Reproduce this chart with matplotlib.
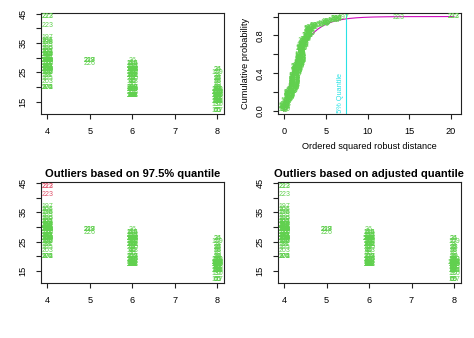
import numpy as np
import matplotlib
matplotlib.use("Agg")
import matplotlib.pyplot as plt

plt.rcParams['font.family'] = ['Liberation Sans', 'DejaVu Sans']

# ---- data: mpg dataset (cyl, hwy), rows 1..234 ----
cyl = [4, 4, 4, 4, 6, 6, 6, 4, 4, 4, 4, 6, 6, 6, 6, 6, 6, 8,
       8, 8, 8, 8, 8, 8, 8, 8, 8, 8, 8, 8, 8, 8, 4, 4, 6, 6, 6,
       4, 6, 6, 6, 6, 6, 6, 6, 6, 6, 6,
       6, 6, 6, 6, 8, 8, 8, 8, 8,
       6, 8, 8, 8, 8, 8, 8,
       8, 8, 8, 8, 8, 8, 8, 8, 8, 8,
       8, 8, 8, 6, 6, 6, 6, 8, 8, 6, 6, 8, 8, 8, 8, 8, 6, 6, 6, 6, 8, 8, 8, 8, 8,
       4, 4, 4, 4, 4, 4, 4, 4, 4,
       4, 4, 4, 4, 6, 6, 6, 4, 4, 4, 4, 6, 6, 6,
       6, 6, 6, 8, 8, 8, 8, 8,
       8, 8, 8, 8, 8, 8, 8, 6, 6, 8, 8,
       4, 4, 4, 4, 6, 6, 6, 6, 6, 6, 6, 6, 8,
       6, 6, 6, 6, 8,
       4, 4, 4, 4, 4, 4, 4, 4, 4, 4, 4, 4, 4, 4,
       4, 4, 6, 6, 6, 8,
       4, 4, 4, 4, 6, 6, 6,
       4, 4, 4, 4, 6, 6, 6,
       4, 4, 4, 4, 4,
       8, 8,
       4, 4, 4, 6, 6, 6, 6,
       4, 4, 4, 4, 6,
       4, 4, 4, 4, 4, 5, 5, 6, 6,
       4, 4, 4, 4, 5, 5,
       4, 4, 4, 4, 6, 6, 6]
hwy = [29, 29, 31, 30, 26, 26, 27, 26, 25, 28, 27, 25, 25, 25, 25, 24, 25, 23,
       20, 15, 20, 17, 17, 26, 23, 26, 25, 24, 19, 14, 15, 17, 27, 30, 26, 29, 26,
       24, 24, 22, 22, 24, 24, 17, 22, 21, 23, 23,
       19, 18, 17, 17, 19, 19, 12, 17, 15,
       17, 17, 12, 17, 16, 18, 15,
       16, 12, 17, 17, 16, 16, 15, 16, 17, 15,
       17, 17, 18, 17, 19, 17, 19, 19, 17, 17, 17, 16, 16, 17, 15, 17, 26, 25, 26, 24, 21, 22, 23, 22, 20,
       33, 32, 32, 29, 32, 34, 36, 36, 29,
       26, 27, 30, 31, 26, 26, 28, 26, 29, 28, 29, 24, 24, 24,
       22, 19, 20, 17, 12, 19, 18, 14,
       15, 18, 18, 15, 17, 16, 18, 17, 19, 19, 17,
       29, 27, 31, 32, 27, 26, 26, 25, 25, 17, 17, 20, 18,
       26, 26, 27, 28, 25,
       25, 24, 27, 25, 26, 23, 26, 26, 26, 26, 25, 27, 25, 27,
       20, 20, 19, 17, 20, 17,
       29, 27, 31, 31, 26, 26, 28,
       27, 29, 31, 31, 26, 26, 27,
       30, 33, 35, 37, 35,
       15, 18,
       20, 20, 22, 17, 19, 18, 20,
       29, 26, 29, 29, 24,
       44, 29, 26, 29, 29, 29, 29, 23, 24,
       44, 41, 29, 26, 28, 29,
       29, 29, 28, 29, 26, 26, 26]
row_ids = [str(i + 1) for i in range(len(cyl))]
outliers_975 = ['213', '222', '223']   # red labels in the 97.5% panel
outliers_adj = []                      # none in the adjusted-quantile panel

GREEN = '#61D04F'
RED = '#DF536B'
MAGENTA = '#CD0BBC'
CYAN = '#28E2E5'

X = np.column_stack([np.array(cyl, float), np.array(hwy, float)])
n, p = X.shape


def mahal(X, m, S):
    D = X - m
    return np.einsum('ij,jk,ik->i', D, np.linalg.inv(S), D)


# ---- deterministic MCD (C-steps) + reweighting ----
h = (n + p + 1) // 2
mu0 = X.mean(0)
S0 = np.cov(X.T)
d0 = mahal(X, mu0, S0)
best = None
starts = np.unique(X, axis=0)
for c in list(starts) + [mu0]:
    dd = mahal(X, c, S0)
    idx = np.argsort(dd, kind='stable')[:h]
    S = None
    for _ in range(200):
        m = X[idx].mean(0)
        S = np.cov(X[idx].T)
        if np.linalg.det(S) <= 1e-12:
            break
        new = np.argsort(mahal(X, m, S), kind='stable')[:h]
        if set(new) == set(idx):
            break
        idx = new
    det = np.linalg.det(S)
    if det > 1e-12 and (best is None or det < best[0]):
        best = (det, m, S)

_, m_raw, S_raw = best
alpha = h / n
q_a = -2 * np.log(1 - alpha)
cfac = alpha / (1 - np.exp(-q_a / 2) * (1 + q_a / 2))
S_raw = S_raw * cfac
delta = -2 * np.log(1 - 0.975)          # qchisq(0.975, 2)
w = mahal(X, m_raw, S_raw) <= delta
m_rw = X[w].mean(0)
S_rw = np.cov(X[w].T) * (0.975 / (1 - np.exp(-delta / 2) * (1 + delta / 2)))
d2 = mahal(X, m_rw, S_rw)

# ---- figure ----
W, H = 474, 338
fig = plt.figure(figsize=(W / 100, H / 100), dpi=100)

def add_ax(x0, y0, x1, y1):
    return fig.add_axes([x0 / W, 1 - y1 / H, (x1 - x0) / W, (y1 - y0) / H])

ax1 = add_ax(40.7, 12.8, 224.0, 114.3)
ax2 = add_ax(277.5, 12.8, 460.7, 114.3)
ax3 = add_ax(40.7, 182.3, 224.0, 283.3)
ax4 = add_ax(277.5, 182.3, 460.7, 283.3)

TICK_FS = 6.6
LAB_FS = 5.0

def style(ax):
    for s in ax.spines.values():
        s.set_linewidth(0.8)
        s.set_color('#222222')
    ax.tick_params(length=3.4, width=0.8, pad=6.0, labelsize=TICK_FS, color='#222222')
    ax.tick_params(axis='y', labelrotation=90)
    for lab in ax.get_yticklabels():
        lab.set_va('center')


def scatter_panel(ax, outl, title=None):
    for xi, yi, lab in zip(cyl, hwy, row_ids):
        ax.text(xi, yi, lab, color=(RED if lab in outl else GREEN),
                fontsize=LAB_FS, ha='center', va='center')
    rx = max(cyl) - min(cyl)
    ry = max(hwy) - min(hwy)
    ax.set_xlim(min(cyl) - 0.04 * rx, max(cyl) + 0.04 * rx)
    ax.set_ylim(min(hwy) - 0.04 * ry, max(hwy) + 0.04 * ry)
    ax.set_xticks([4, 5, 6, 7, 8])
    ax.set_yticks([15, 20, 25, 30, 35, 40, 45])
    ax.set_yticklabels(['15', '', '25', '', '35', '', '45'])
    style(ax)
    if title:
        ax.text(0.5, 1 + 8.3 / 101, title, transform=ax.transAxes, ha='center',
                va='center', fontsize=8.0, fontweight='bold')


scatter_panel(ax1, [])
scatter_panel(ax3, outliers_975, 'Outliers based on 97.5% quantile')
scatter_panel(ax4, outliers_adj, 'Outliers based on adjusted quantile')

# ---- ECDF panel ----
order = np.argsort(d2, kind='stable')
ds = d2[order]
yy = np.arange(1, n + 1) / n
for xi, yi, k in zip(ds, yy, order):
    ax2.text(xi, yi, row_ids[k], color=GREEN, fontsize=LAB_FS, ha='center',
             va='center', clip_on=False)
t = np.arange(0, ds.max() + 0.01, 0.01)
ax2.plot(t, 1 - np.exp(-t / 2), color=MAGENTA, lw=0.8)
ax2.axvline(delta, color=CYAN, lw=0.8)
ax2.set_xlim(-0.04 * ds.max(), 1.04 * ds.max())
ry = yy[-1] - yy[0]
ax2.set_ylim(yy[0] - 0.04 * ry, yy[-1] + 0.04 * ry)
ax2.text(delta - 0.25, 0.4, '97.5% Quantile', color=CYAN, fontsize=LAB_FS + 0.3,
         rotation=90, rotation_mode='anchor', ha='right', va='bottom', clip_on=True)
ax2.set_xticks([0, 5, 10, 15, 20])
ax2.set_yticks([0.0, 0.2, 0.4, 0.6, 0.8, 1.0])
ax2.set_yticklabels(['0.0', '', '0.4', '', '0.8', ''])
style(ax2)
ax2.set_xlabel('Ordered squared robust distance', fontsize=TICK_FS)
ax2.set_ylabel('Cumulative probability', fontsize=TICK_FS)
ax2.xaxis.set_label_coords(0.5, -(146.7 - 114.3) / 101.5)
ax2.xaxis.label.set_va('center')
ax2.yaxis.set_label_coords(-(277.5 - 245.3) / 183.2, 0.5)
ax2.yaxis.label.set_va('center')

fig.savefig('out.png', dpi=100)
